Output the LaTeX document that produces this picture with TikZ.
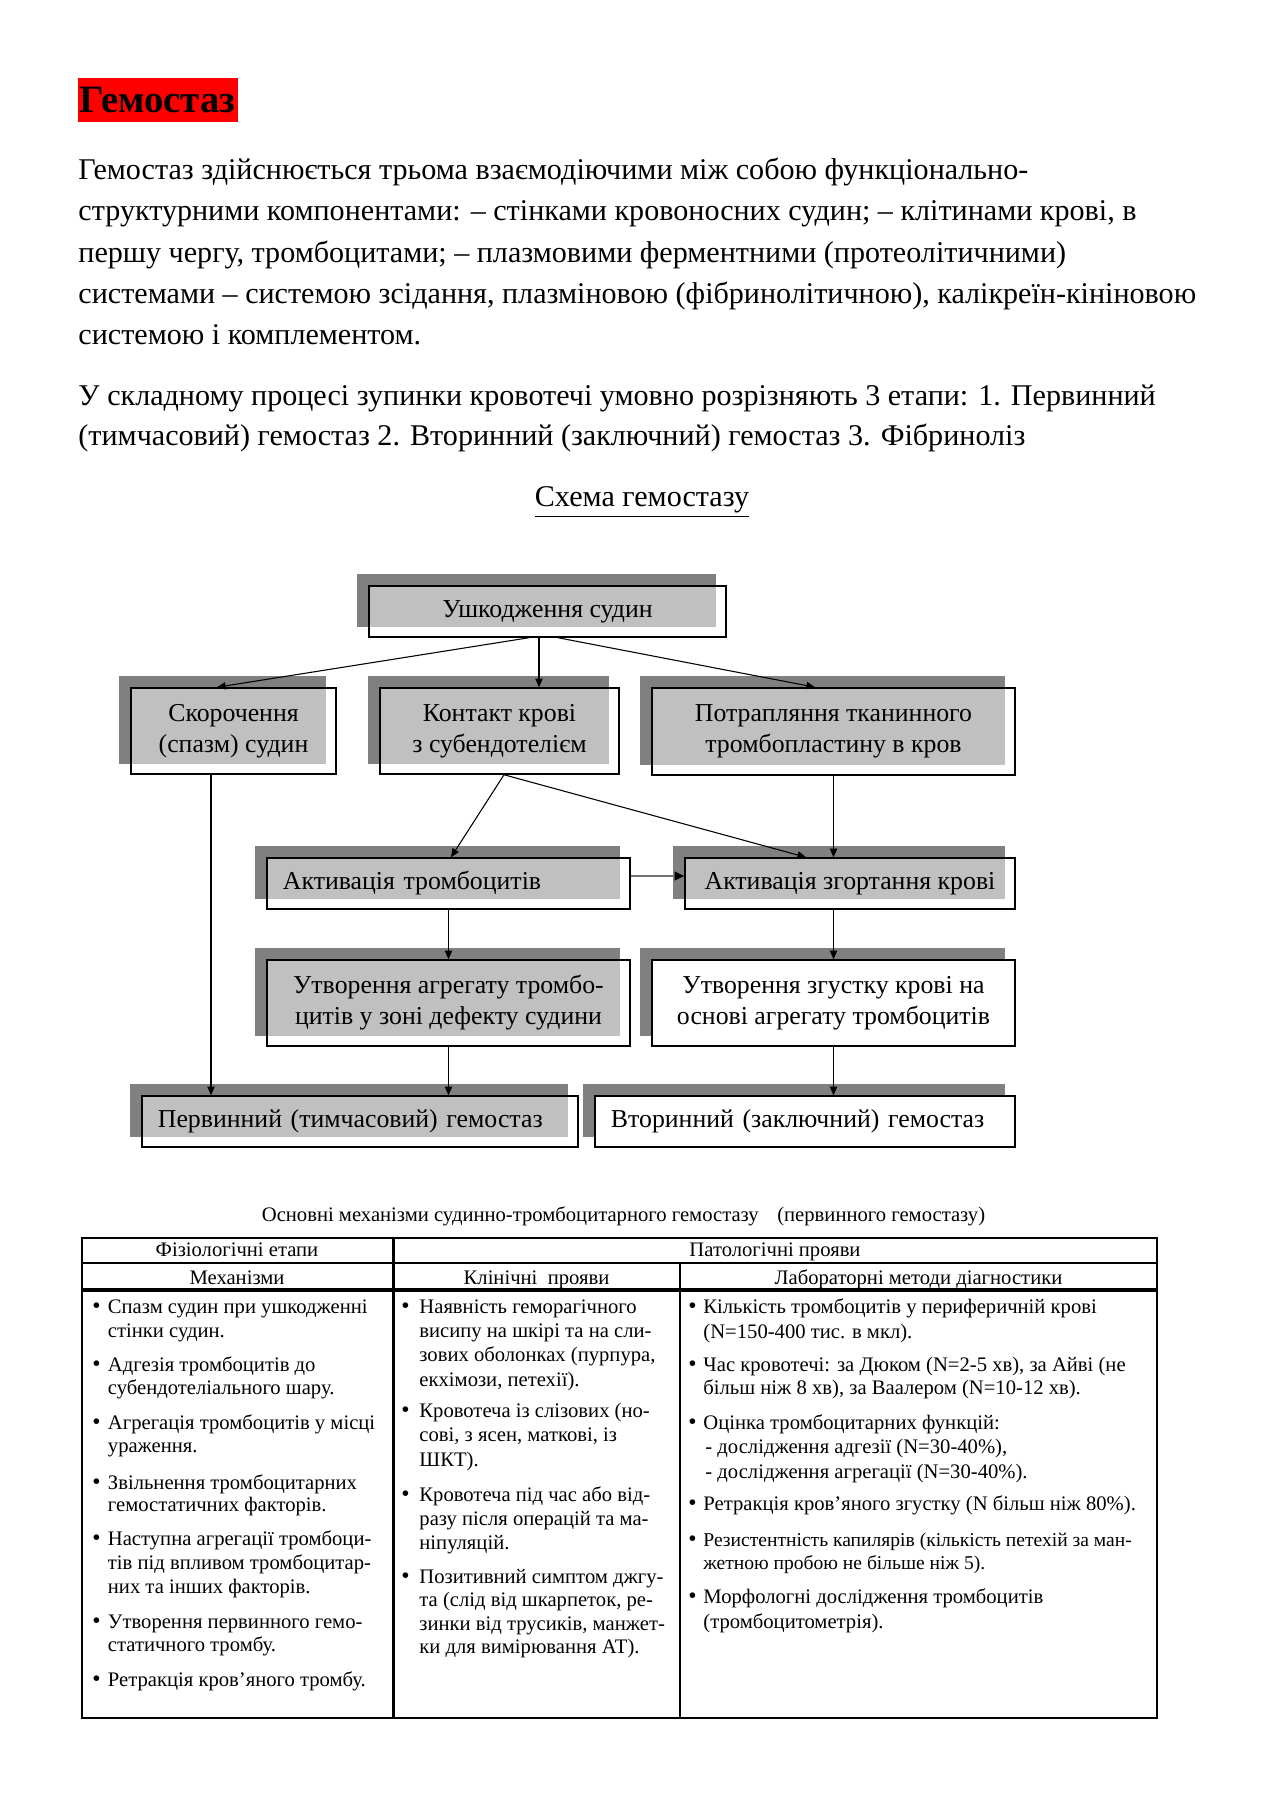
\documentclass[tikz,border=0pt]{standalone}
\usepackage{fontspec}
\setmainfont{Liberation Serif}
\usetikzlibrary{arrows.meta, calc, backgrounds}

\newdimen\pxu \pxu=0.4651pt
\definecolor{shadowgray}{HTML}{808080}
\definecolor{boxgray}{HTML}{C0C0C0}
\newcommand{\tabbullet}[1]{\makebox[#1][l]{{\fontsize{11pt}{11pt}\selectfont\textbullet}}}

\begin{document}
\begin{tikzpicture}[x=\pxu, y=-\pxu,
    txt/.style={anchor=base west, inner sep=0pt},
    body/.style={txt, font=\fontsize{14pt}{17pt}\selectfont},
    cell/.style={txt, font=\fontsize{9.6pt}{11.5pt}\selectfont},
    narrowcell/.style={txt, font=\fontsize{9.1pt}{11.5pt}\selectfont},
    box/.style={draw, line width=0.7pt, inner sep=2pt, align=center,
        font=\fontsize{12pt}{14.4pt}\selectfont},
    whitebox/.style={box, fill=white},
    arr/.style={line width=0.5pt, -{Triangle[length=4pt, width=3.4pt]}}]

    \useasboundingbox (0,0) rectangle (1280,1811);

    % title and text
    \fill[red] (78,78) rectangle (238,122);
    \node[txt, font=\fontsize{18pt}{20pt}\selectfont\bfseries] (title) at (79,113) {Гемостаз};

    \node[body] (intro1) at (78,180) {Гемостаз здійснюється трьома взаємодіючими між собою функціонально-};
    \node[body] (intro2) at (78,221) {структурними компонентами: – стінками кровоносних судин; – клітинами крові, в};
    \node[body] (intro3) at (78,263) {першу чергу, тромбоцитами; – плазмовими ферментними (протеолітичними)};
    \node[body] (intro4) at (78,304) {системами – системою зсідання, плазміновою (фібринолітичною), калікреїн-кініновою};
    \node[body] (intro5) at (78,345) {системою і комплементом.};
    \node[body] (stages1) at (78,406) {У складному процесі зупинки кровотечі умовно розрізняють 3 етапи: 1. Первинний};
    \node[body] (stages2) at (78,446) {(тимчасовий) гемостаз 2. Вторинний (заключний) гемостаз 3. Фібриноліз};
    \node[body, anchor=base] (scheme) at (642,507) {\underline{Схема гемостазу}};

    % scheme boxes
    \node[box, minimum width=166pt, minimum height=23.7pt] (damage) at (547.5,611.5) {Ушкодження судин};
    \node[box, minimum width=95.3pt, minimum height=40pt] (spasm) at (233.5,731) {Скорочення\\(спазм) судин};
    \node[box, minimum width=111.2pt, minimum height=40pt] (contact) at (499.5,731) {Контакт крові\\з субендотелієм};
    \node[box, minimum width=168.8pt, minimum height=40.5pt] (tissue) at (833.5,731.5) {Потрапляння тканинного\\тромбопластину в кров};
    \node[box, text width=154pt, inner xsep=7.44pt, align=left, minimum height=23.7pt] (platelet) at (448.5,883.5) {Активація тромбоцитів};
    \node[box, minimum width=153.5pt, minimum height=23.7pt] (coag) at (850,883.5) {Активація згортання крові};
    \node[box, minimum width=168.8pt, minimum height=40pt] (aggregate) at (448.5,1003) {Утворення агрегату тромбо-\\цитів у зоні дефекту судини};
    \node[whitebox, minimum width=168.8pt, minimum height=40pt] (clot) at (833.5,1003) {Утворення згустку крові на\\основі агрегату тромбоцитів};
    \node[box, text width=188pt, inner xsep=7.44pt, align=left, minimum height=23.7pt] (primary) at (360,1121.5) {Первинний (тимчасовий) гемостаз};
    \node[whitebox, text width=180.5pt, inner xsep=7.44pt, align=left, minimum height=23.7pt] (secondary) at (805,1121.5) {Вторинний (заключний) гемостаз};

    % shadows
    \begin{scope}[on background layer]
        \foreach \n in {damage, spasm, contact, tissue, platelet, coag, aggregate, clot, primary, secondary}
            \fill[shadowgray] ([shift={(-11,-11)}]\n.south west) rectangle ([shift={(-11,-11)}]\n.north east);
        \foreach \n in {damage, spasm, contact, tissue, platelet, coag, aggregate, primary}
            \fill[boxgray] (\n.north west) rectangle ([shift={(-11,-11)}]\n.south east);
    \end{scope}

    % arrows
    \draw[arr] ($(damage.south)+(-18.5,0)$) -- ($(spasm.north)+(-16.5,0)$);
    \draw[arr] ($(damage.south)+(-8.5,0)$) coordinate (dc) -- (dc |- contact.north);
    \draw[arr] ($(damage.south)+(10.5,0)$) -- ($(tissue.north)+(-18.5,0)$);
    \draw[arr] ($(spasm.south)+(-22.5,0)$) coordinate (sp) -- (sp |- primary.north);
    \draw[arr] ($(contact.south)+(4.5,0)$) coordinate (cs) -- ($(platelet.north)+(2.5,0)$);
    \draw[arr] (cs) -- ($(coag.north)+(-44,0)$);
    \draw[arr] (tissue.south) -- (tissue.south |- coag.north);
    \draw[black!55, line width=0.9pt, -{Triangle[length=4.5pt, width=4pt, black]}] ($(platelet.east)+(0,-7.5)$) coordinate (pe) -- (pe -| coag.west);
    \draw[arr] (platelet.south) -- (aggregate.north);
    \draw[arr] (aggregate.south) -- (aggregate.south |- primary.north);
    \draw[arr] (coag.south -| clot.north) -- (clot.north);
    \draw[arr] (clot.south) -- (clot.south |- secondary.north);

    % table
    \node[cell, anchor=base] (caption) at (623.5,1221) {Основні механізми судинно-тромбоцитарного гемостазу\hspace{0.9em}(первинного гемостазу)};
    \draw[line width=0.6pt] (82,1238) rectangle (1157,1718);
    \draw[line width=1.1pt] (82,1263) -- (1157,1263);
    \draw[line width=1.8pt] (82,1290) -- (1157,1290);
    \draw[line width=1.4pt] (393,1238) -- (393,1718);
    \draw[line width=0.6pt] (680,1263) -- (680,1718);

    \node[cell, anchor=base] (stage) at (237,1256.5) {Фізіологічні етапи};
    \node[cell, anchor=base] (patho) at (775,1256.5) {Патологічні прояви};
    \node[cell, anchor=base] (mech) at (237,1284.5) {Механізми};
    \node[cell, anchor=base] (clin) at (536.5,1284.5) {Клінічні\ \ прояви};
    \node[cell, anchor=base] (lab) at (918.5,1284.5) {Лабораторні методи діагностики};

    % mechanisms
    \node[cell] (mech1a) at (92,1313.5) {\tabbullet{15.5\pxu}Спазм судин при ушкодженні};
    \node[cell] (mech1b) at (107.5,1337.5) {стінки судин.};
    \node[cell] (mech2a) at (92,1371.5) {\tabbullet{15.5\pxu}Адгезія тромбоцитів до};
    \node[cell] (mech2b) at (107.5,1394.5) {субендотеліального шару.};
    \node[cell] (mech3a) at (92,1429.5) {\tabbullet{15.5\pxu}Агрегація тромбоцитів у місці};
    \node[cell] (mech3b) at (107.5,1452.5) {ураження.};
    \node[cell] (mech4a) at (92,1489.5) {\tabbullet{15.5\pxu}Звільнення тромбоцитарних};
    \node[cell] (mech4b) at (107.5,1511.5) {гемостатичних факторів.};
    \node[cell] (mech5a) at (92,1545.5) {\tabbullet{15.5\pxu}Наступна агрегації тромбоци-};
    \node[cell] (mech5b) at (107.5,1569.5) {тів під впливом тромбоцитар-};
    \node[cell] (mech5c) at (107.5,1593.5) {них та інших факторів.};
    \node[cell] (mech6a) at (92,1628.5) {\tabbullet{15.5\pxu}Утворення первинного гемо-};
    \node[cell] (mech6b) at (107.5,1651.5) {статичного тромбу.};
    \node[cell] (mech7a) at (92,1686.5) {\tabbullet{15.5\pxu}Ретракція кров’яного тромбу.};

    % clinical signs
    \node[cell] (clin1a) at (401,1313.5) {\tabbullet{18\pxu}Наявність геморагічного};
    \node[cell] (clin1b) at (419,1337.5) {висипу на шкірі та на сли-};
    \node[cell] (clin1c) at (419,1361.5) {зових оболонках (пурпура,};
    \node[cell] (clin1d) at (419,1386) {екхімози, петехії).};
    \node[cell] (clin2a) at (401,1417.5) {\tabbullet{18\pxu}Кровотеча із слізових (но-};
    \node[cell] (clin2b) at (419,1441.5) {сові, з ясен, маткові, із};
    \node[cell] (clin2c) at (419,1466.5) {ШКТ).};
    \node[cell] (clin3a) at (401,1501.5) {\tabbullet{18\pxu}Кровотеча під час або від-};
    \node[cell] (clin3b) at (419,1525.5) {разу після операцій та ма-};
    \node[cell] (clin3c) at (419,1549.5) {ніпуляцій.};
    \node[cell] (clin4a) at (401,1583) {\tabbullet{18\pxu}Позитивний симптом джгу-};
    \node[cell] (clin4b) at (419,1606.5) {та (слід від шкарпеток, ре-};
    \node[cell] (clin4c) at (419,1630.5) {зинки від трусиків, манжет-};
    \node[cell] (clin4d) at (419,1653.5) {ки для вимірювання АТ).};

    % laboratory methods
    \node[cell] (lab1a) at (688,1313.5) {\tabbullet{15\pxu}Кількість тромбоцитів у периферичній крові};
    \node[cell] (lab1b) at (703,1338.5) {(N=150-400 тис. в мкл).};
    \node[cell] (lab2a) at (688,1371.5) {\tabbullet{15\pxu}Час кровотечі: за Дюком (N=2-5 хв), за Айві (не};
    \node[cell] (lab2b) at (703,1394.5) {більш ніж 8 хв), за Ваалером (N=10-12 хв).};
    \node[cell] (lab3a) at (688,1429.5) {\tabbullet{15\pxu}Оцінка тромбоцитарних функцій:};
    \node[cell] (lab3b) at (705,1453.5) {- дослідження адгезії (N=30-40\%),};
    \node[cell] (lab3c) at (705,1478.5) {- дослідження агрегації (N=30-40\%).};
    \node[cell] (lab4a) at (688,1510.5) {\tabbullet{15\pxu}Ретракція кров’яного згустку (N більш ніж 80\%).};
    \node[narrowcell] (lab5a) at (688,1546.5) {\tabbullet{15\pxu}Резистентність капилярів (кількість петехій за ман-};
    \node[narrowcell] (lab5b) at (703,1569.5) {жетною пробою не більше ніж 5).};
    \node[cell] (lab6a) at (688,1603.5) {\tabbullet{15\pxu}Морфологні дослідження тромбоцитів};
    \node[cell] (lab6b) at (703,1628.5) {(тромбоцитометрія).};
\end{tikzpicture}
\end{document}
